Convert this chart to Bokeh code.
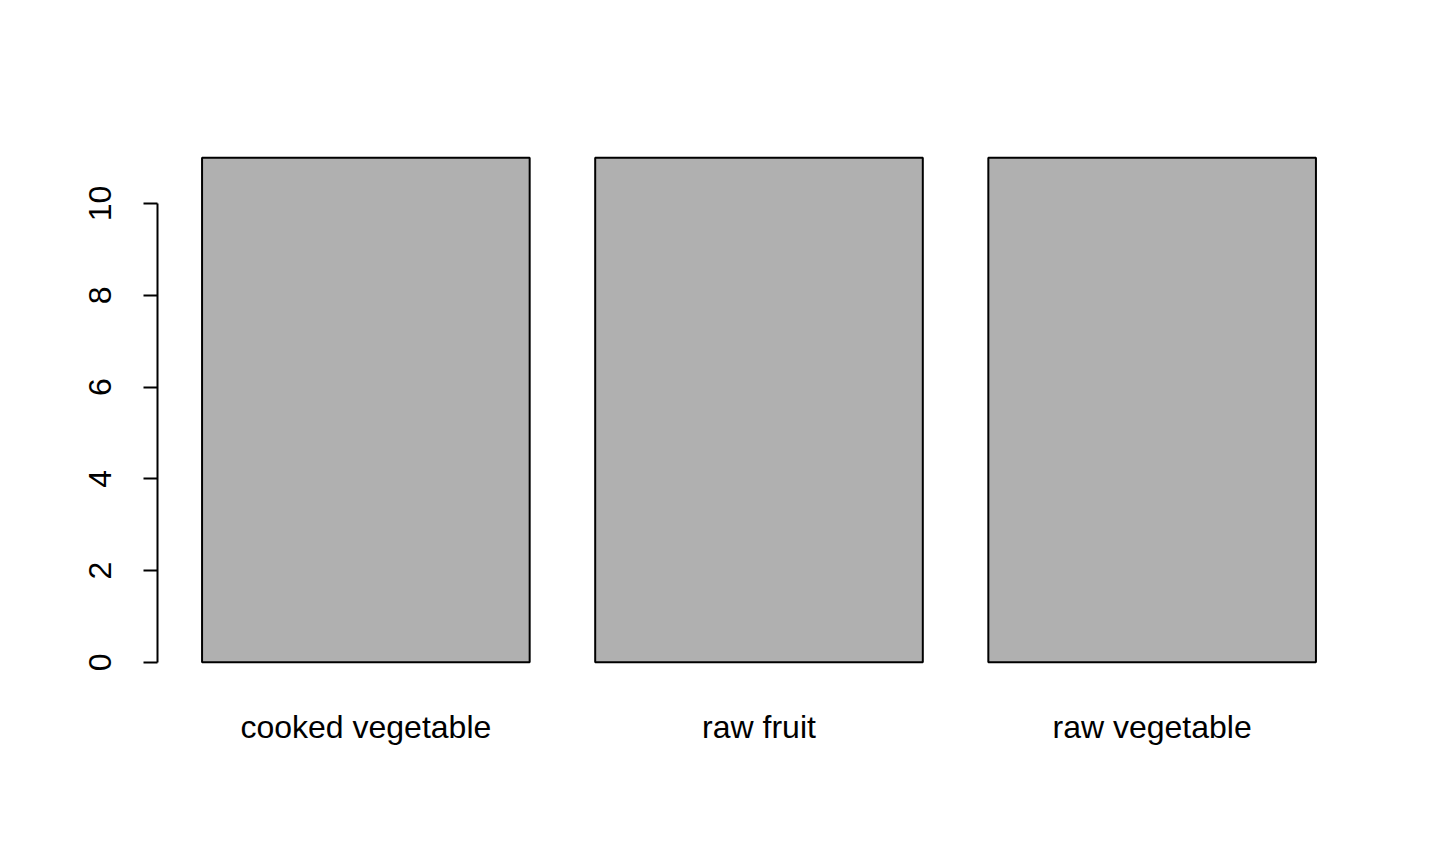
# Bar chart of food preparation counts
from bokeh.embed import file_html
from bokeh.models import FixedTicker, LinearAxis, Range1d
from bokeh.plotting import figure
from bokeh.resources import INLINE

# Data
categories = ["cooked vegetable", "raw fruit", "raw vegetable"]
counts = [11, 11, 11]
y_ticks = [0, 2, 4, 6, 8, 10]

# R-style barplot positions: width 1, space 0.2
centers = [0.7 + 1.2 * i for i in range(len(categories))]

p = figure(
    width=1424,
    height=848,
    output_backend="svg",
    toolbar_location=None,
    x_range=Range1d(0.064, 3.736),
    y_range=Range1d(-0.44, 11.44),
    x_axis_location=None,
    y_axis_location=None,
    min_border_left=157,
    min_border_right=64,
    min_border_top=137,
    min_border_bottom=166,
)
p.outline_line_color = None
p.grid.grid_line_color = None
p.background_fill_color = "white"

# Bars
p.vbar(
    x=centers,
    top=counts,
    bottom=0,
    width=1,
    fill_color="#b0b0b0",
    line_color="black",
    line_width=2,
)

# Y axis
yaxis = LinearAxis(ticker=FixedTicker(ticks=y_ticks))
yaxis.bounds = (0, 10)
yaxis.axis_line_width = 2
yaxis.major_tick_line_width = 2
yaxis.major_tick_in = 0
yaxis.major_tick_out = 14
yaxis.minor_tick_line_color = None
yaxis.major_label_orientation = "vertical"
yaxis.major_label_text_font = "Liberation Sans"
yaxis.major_label_text_font_size = "32px"
yaxis.major_label_text_color = "black"
yaxis.major_label_standoff = 32
p.add_layout(yaxis, "left")

# X axis: category labels only
xaxis = LinearAxis(ticker=FixedTicker(ticks=centers))
xaxis.major_label_overrides = {c: name for c, name in zip(centers, categories)}
xaxis.axis_line_color = None
xaxis.major_tick_line_color = None
xaxis.minor_tick_line_color = None
xaxis.major_label_text_font = "Liberation Sans"
xaxis.major_label_text_font_size = "32px"
xaxis.major_label_text_color = "black"
xaxis.major_label_standoff = 20
p.add_layout(xaxis, "below")

open("out.html", "w").write(file_html(p, INLINE))
